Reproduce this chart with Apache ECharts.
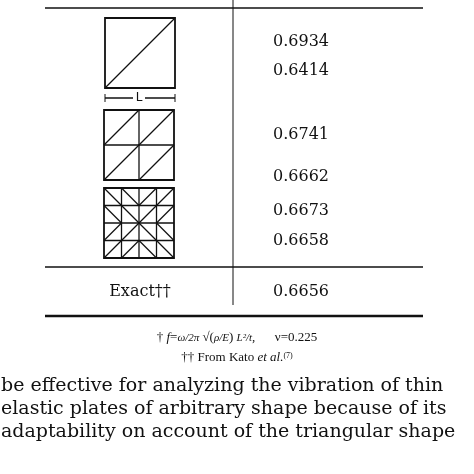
<!DOCTYPE html><html><head><meta charset="utf-8"><script src="https://cdn.jsdelivr.net/npm/echarts@6/dist/echarts.min.js"></script>
<style>html,body{margin:0;background:#fff}#c{width:474px;height:474px}</style></head><body><div id="c"></div><script>
const values=["0.6934","0.6414","0.6741","0.6662","0.6673","0.6658"];
const valueY=[42,71,135,177,211,241];
const exactLabel="Exact††";
const exactValue="0.6656";
const meshDivs=[1,2,4];
const paragraph=["be effective for analyzing the vibration of thin","elastic plates of arbitrary shape because of its","adaptability on account of the triangular shape"];
const chart=echarts.init(document.getElementById('c'));
const F='Liberation Serif';const g=[];
const ln=(x1,y1,x2,y2,w)=>g.push({type:'line',shape:{x1,y1,x2,y2},style:{stroke:'#111',lineWidth:w||1.2}});
const tx=(x,y,t,s,align,font)=>g.push({type:'text',x,y,style:{text:t,font:`${s}px "${font||F}"`,fill:'#111',align:align||'center',verticalAlign:'middle'}});
ln(45,8,423,8,1.6);ln(233,0,233,305,1);ln(45,267,423,267,1.6);ln(45,316,423,316,2.4);
values.forEach((v,i)=>tx(301,valueY[i],v,16,'center','DejaVu Serif'));
tx(140,292,exactLabel,16,'center','DejaVu Serif');tx(301,292,exactValue,16,'center','DejaVu Serif');
const boxes=[[105,18],[104,110],[104,188]];
meshDivs.forEach((n,k)=>{const[x0,y0]=boxes[k];const S=70,c=S/n;
 g.push({type:'rect',shape:{x:x0,y:y0,width:S,height:S},style:{fill:'none',stroke:'#111',lineWidth:1.8}});
 for(let i=1;i<n;i++){ln(x0+i*c,y0,x0+i*c,y0+S,1.3);ln(x0,y0+i*c,x0+S,y0+i*c,1.3);}
 for(let i=0;i<n;i++)for(let j=0;j<n;j++){const x=x0+i*c,y=y0+j*c;
  if(n<4)ln(x,y+c,x+c,y,1.3);else{const left=i<n/2,top=j<n/2;
   if(left===top)ln(x,y,x+c,y+c,1.3);else ln(x,y+c,x+c,y,1.3);}}
});
ln(105,98,175,98,1.5);ln(105,94,105,102,1);ln(175,94,175,102,1);
g.push({type:'rect',shape:{x:133,y:90,width:12,height:16},style:{fill:'#fff'}});tx(139,98,'L',12,'center','DejaVu Sans');
g.push({type:'text',x:237,y:338,style:{text:'{a|† }{i|f}{a|=}{f|ω/2π}{a| √(}{f|ρ/E}{a|) }{f|L²/t}{a|,      ν=0.225}',align:'center',verticalAlign:'middle',rich:{a:{font:`13px "${F}"`,fill:'#111'},i:{font:`italic 13px "${F}"`,fill:'#111'},f:{font:`italic 11px "${F}"`,fill:'#111'}}}});
g.push({type:'text',x:237,y:358,style:{text:'{a|†† From Kato }{i|et al.}{s|(7)}',align:'center',verticalAlign:'middle',rich:{a:{font:`13px "${F}"`,fill:'#111'},i:{font:`italic 13px "${F}"`,fill:'#111'},s:{font:`8px "${F}"`,fill:'#111',verticalAlign:'top'}}}});
paragraph.forEach((t,i)=>tx(1,386+i*23,t,19,'left','DejaVu Serif'));
chart.setOption({animation:false,graphic:g});
</script></body></html>
